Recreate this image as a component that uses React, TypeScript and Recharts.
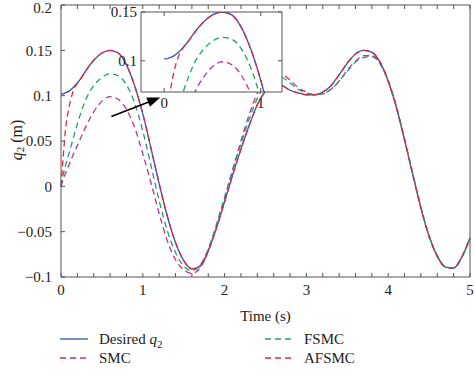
import React from 'react';
import { LineChart, Line, XAxis, YAxis, ReferenceLine, Legend } from 'recharts';

const FONT = '"Liberation Serif", "DejaVu Serif", serif';

const TIME = [
  0, 0.025, 0.05, 0.1, 0.15, 0.2, 0.25, 0.3, 0.4, 0.5, 0.6, 0.7, 0.8, 0.9, 1.0,
  1.1, 1.2, 1.3, 1.4, 1.5, 1.6, 1.7, 1.8, 1.9, 2.0, 2.1, 2.2, 2.3, 2.4, 2.5,
  2.6, 2.7, 2.8, 2.9, 3.0, 3.1, 3.2, 3.3, 3.4, 3.5, 3.6, 3.7, 3.8, 3.9, 4.0,
  4.1, 4.2, 4.3, 4.4, 4.5, 4.6, 4.7, 4.8, 4.9, 5.0,
];

const DESIRED = [
  0.102, 0.102, 0.103, 0.105, 0.109, 0.114, 0.12, 0.127, 0.139, 0.147, 0.15, 0.147, 0.134, 0.111, 0.08,
  0.042, 0.003, -0.033, -0.062, -0.082, -0.091, -0.088, -0.071, -0.046, -0.017, 0.013, 0.041, 0.067, 0.09, 0.105,
  0.112, 0.111, 0.106, 0.103, 0.101, 0.101, 0.104, 0.111, 0.123, 0.136, 0.146, 0.15, 0.148, 0.137, 0.116,
  0.087, 0.051, 0.013, -0.024, -0.055, -0.077, -0.089, -0.09, -0.078, -0.057,
];

const SMC = [
  0.0, 0.007, 0.013, 0.024, 0.035, 0.045, 0.055, 0.065, 0.082, 0.094, 0.099, 0.096, 0.085, 0.065, 0.036,
  0.004, -0.03, -0.06, -0.081, -0.092, -0.096, -0.09, -0.072, -0.045, -0.013, 0.019, 0.05, 0.079, 0.103, 0.118,
  0.125, 0.124, 0.117, 0.109, 0.104, 0.101, 0.102, 0.107, 0.116, 0.128, 0.138, 0.144, 0.144, 0.136, 0.117,
  0.088, 0.052, 0.014, -0.023, -0.055, -0.077, -0.089, -0.09, -0.078, -0.057,
];

const FSMC = [
  0.0, 0.012, 0.021, 0.037, 0.053, 0.069, 0.083, 0.095, 0.111, 0.12, 0.124, 0.122, 0.112, 0.092, 0.061,
  0.023, -0.016, -0.049, -0.073, -0.088, -0.093, -0.087, -0.069, -0.042, -0.012, 0.018, 0.047, 0.074, 0.097, 0.112,
  0.12, 0.12, 0.114, 0.107, 0.103, 0.101, 0.102, 0.107, 0.116, 0.127, 0.137, 0.142, 0.143, 0.135, 0.116,
  0.088, 0.052, 0.014, -0.023, -0.055, -0.077, -0.089, -0.09, -0.078, -0.057,
];

const AFSMC = [
  0.0, 0.03, 0.058, 0.088, 0.105, 0.114, 0.12, 0.127, 0.139, 0.147, 0.15, 0.147, 0.134, 0.111, 0.08,
  0.042, 0.003, -0.033, -0.062, -0.082, -0.091, -0.088, -0.071, -0.046, -0.017, 0.013, 0.041, 0.067, 0.09, 0.105,
  0.112, 0.111, 0.106, 0.103, 0.101, 0.101, 0.104, 0.111, 0.123, 0.136, 0.146, 0.15, 0.148, 0.137, 0.116,
  0.087, 0.051, 0.013, -0.024, -0.055, -0.077, -0.089, -0.09, -0.078, -0.057,
];

const X_TICKS = [
  0, 0.2, 0.4, 0.6, 0.8, 1, 1.2, 1.4, 1.6, 1.8, 2, 2.2, 2.4, 2.6, 2.8, 3,
  3.2, 3.4, 3.6, 3.8, 4, 4.2, 4.4, 4.6, 4.8, 5,
];
const Y_TICKS = [-0.1, -0.05, 0, 0.05, 0.1, 0.15, 0.2];
const INSET_X_TICKS = [0, 1];
const INSET_Y_TICKS = [0.1, 0.15];

const SERIES = [
  { key: 'desired', name: 'Desired', color: '#3552b0', dash: undefined },
  { key: 'smc', name: 'SMC', color: '#b8338a', dash: '6 4' },
  { key: 'fsmc', name: 'FSMC', color: '#1f9e6e', dash: '6 4' },
  { key: 'afsmc', name: 'AFSMC', color: '#e3263f', dash: '6 4' },
];

const ARROW = [
  { x: 0.616, y: 0.077 },
  { x: 1.213, y: 0.098 },
];

const rows = TIME.map((t, i) => ({
  t,
  desired: DESIRED[i],
  smc: SMC[i],
  fsmc: FSMC[i],
  afsmc: AFSMC[i],
}));

const AXIS = '#555';
const TXT = '#222';

const fmtX = (v: number) => (Number.isInteger(v) ? String(v) : '');
const fmtY = (v: number) => (v < 0 ? '\u2212' + String(Math.abs(v)) : String(v));

const tickStyle = { fill: TXT, fontSize: 15, fontFamily: FONT };

const YTick = (props: any) => {
  const { x, y, payload } = props;
  const yy = Math.max(y, 8);
  return (
    <text x={x} y={yy} dy="0.35em" textAnchor="end" fontFamily={FONT} fontSize={15} fill={TXT}>
      {fmtY(payload.value)}
    </text>
  );
};

const ArrowShape = (props: any) => {
  const { x1, y1, x2, y2 } = props;
  if ([x1, y1, x2, y2].some((v) => typeof v !== 'number')) return null;
  const dx = x2 - x1;
  const dy = y2 - y1;
  const len = Math.sqrt(dx * dx + dy * dy) || 1;
  const ux = dx / len;
  const uy = dy / len;
  const hl = 13;
  const hw = 5;
  const bx = x2 - ux * hl;
  const by = y2 - uy * hl;
  const pts = `${x2},${y2} ${bx - uy * hw},${by + ux * hw} ${bx + uy * hw},${by - ux * hw}`;
  return (
    <g>
      <line x1={x1} y1={y1} x2={bx + ux * 2} y2={by + uy * 2} stroke="#000" strokeWidth={1.6} />
      <polygon points={pts} fill="#000" />
    </g>
  );
};

const renderLegend = (props: any) => {
  const items = props.payload || [];
  const pos = [
    { x: 60, y: 13 },
    { x: 60, y: 32 },
    { x: 265, y: 13 },
    { x: 265, y: 32 },
  ];
  return (
    <svg width={474} height={50} style={{ display: 'block' }}>
      {SERIES.map((s, i) => {
        const it = items.find((p: any) => p.dataKey === s.key);
        const color = it ? it.color : s.color;
        const p = pos[i];
        return (
          <g key={s.key}>
            <line x1={p.x} y1={p.y} x2={p.x + 28} y2={p.y} stroke={color} strokeWidth={1.3} strokeDasharray={s.dash} />
            <text x={p.x + 39} y={p.y + 5} fontFamily={FONT} fontSize={15} fill={TXT}>
              {s.key === 'desired' ? (
                <>
                  <tspan>Desired </tspan>
                  <tspan fontStyle="italic">q</tspan>
                  <tspan dy={4} fontSize={11}>2</tspan>
                </>
              ) : (
                s.name
              )}
            </text>
          </g>
        );
      })}
    </svg>
  );
};

const YLabel = () => (
  <text
    x={16}
    y={140}
    transform="rotate(-90, 16, 140)"
    textAnchor="middle"
    dominantBaseline="central"
    fontFamily={FONT}
    fontSize={16}
    fill={TXT}
  >
    <tspan fontStyle="italic">q</tspan>
    <tspan dy={4} fontSize={11}>2</tspan>
    <tspan dy={-4}> (m)</tspan>
  </text>
);

const XLabel = () => (
  <text x={265.5} y={321} textAnchor="middle" fontFamily={FONT} fontSize={15} fill={TXT}>
    Time (s)
  </text>
);

const lines = () =>
  SERIES.map((s) => (
    <Line
      key={s.key}
      dataKey={s.key}
      name={s.name}
      stroke={s.color}
      strokeWidth={1.3}
      strokeDasharray={s.dash}
      dot={false}
      activeDot={false}
      type="monotone"
      isAnimationActive={false}
      legendType="line"
    />
  ));

const axisLine = { stroke: AXIS, strokeWidth: 1 };
const tickLine = { stroke: AXIS, strokeWidth: 1 };

export default function App() {
  return (
    <div style={{ position: 'absolute', left: 0, top: 0, width: 474, height: 392, background: '#fff', overflow: 'hidden' }}>
      <div style={{ position: 'absolute', left: 0, top: 0 }}>
        <LineChart width={474} height={392} data={rows} margin={{ top: 4, right: 3, bottom: 85, left: 1 }}>
          <XAxis
            dataKey="t"
            type="number"
            domain={[0, 5]}
            ticks={X_TICKS}
            interval={0}
            tickFormatter={fmtX}
            tickSize={-4}
            tickMargin={11}
            height={30}
            axisLine={axisLine}
            tickLine={tickLine}
            tick={tickStyle}
            label={{ content: <XLabel /> }}
          />
          <XAxis
            xAxisId="top"
            orientation="top"
            dataKey="t"
            type="number"
            domain={[0, 5]}
            ticks={X_TICKS}
            interval={0}
            tickFormatter={() => ''}
            tickSize={-4}
            height={1}
            axisLine={axisLine}
            tickLine={tickLine}
          />
          <YAxis
            type="number"
            domain={[-0.1, 0.2]}
            ticks={Y_TICKS}
            interval={0}
            tickSize={-4}
            tickMargin={13}
            width={60}
            axisLine={axisLine}
            tickLine={tickLine}
            tick={<YTick />}
            label={{ content: <YLabel /> }}
          />
          <YAxis
            yAxisId="right"
            orientation="right"
            type="number"
            domain={[-0.1, 0.2]}
            ticks={Y_TICKS}
            interval={0}
            tickFormatter={() => ''}
            tickSize={-4}
            width={1}
            axisLine={axisLine}
            tickLine={tickLine}
          />
          {lines()}
          <ReferenceLine segment={ARROW} shape={ArrowShape} ifOverflow="visible" />
          <Legend
            content={renderLegend}
            layout="horizontal"
            align="center"
            verticalAlign="middle"
            wrapperStyle={{ position: 'absolute', left: 0, top: 326, width: 474, height: 50 }}
          />
        </LineChart>
      </div>
      <div style={{ position: 'absolute', left: 141, top: 12, width: 141, height: 80, background: '#fff' }} />
      <div style={{ position: 'absolute', left: 100, top: 0 }}>
        <LineChart width={200} height={115} data={rows} margin={{ top: 11, right: 17, bottom: 3, left: 11 }}>
          <XAxis
            dataKey="t"
            type="number"
            domain={[-0.24, 1.22]}
            allowDataOverflow
            ticks={INSET_X_TICKS}
            interval={0}
            tickSize={-4}
            tickMargin={9}
            height={20}
            axisLine={axisLine}
            tickLine={tickLine}
            tick={tickStyle}
          />
          <XAxis
            xAxisId="top"
            orientation="top"
            dataKey="t"
            type="number"
            domain={[-0.24, 1.22]}
            allowDataOverflow
            ticks={INSET_X_TICKS}
            interval={0}
            tickFormatter={() => ''}
            tickSize={-4}
            height={1}
            axisLine={axisLine}
            tickLine={tickLine}
          />
          <YAxis
            type="number"
            domain={[0.068, 0.15]}
            allowDataOverflow
            ticks={INSET_Y_TICKS}
            interval={0}
            tickSize={-4}
            tickMargin={8}
            width={30}
            axisLine={axisLine}
            tickLine={tickLine}
            tick={tickStyle}
          />
          <YAxis
            yAxisId="right"
            orientation="right"
            type="number"
            domain={[0.068, 0.15]}
            allowDataOverflow
            ticks={INSET_Y_TICKS}
            interval={0}
            tickFormatter={() => ''}
            tickSize={-4}
            width={1}
            axisLine={axisLine}
            tickLine={tickLine}
          />
          {lines()}
        </LineChart>
      </div>
    </div>
  );
}
